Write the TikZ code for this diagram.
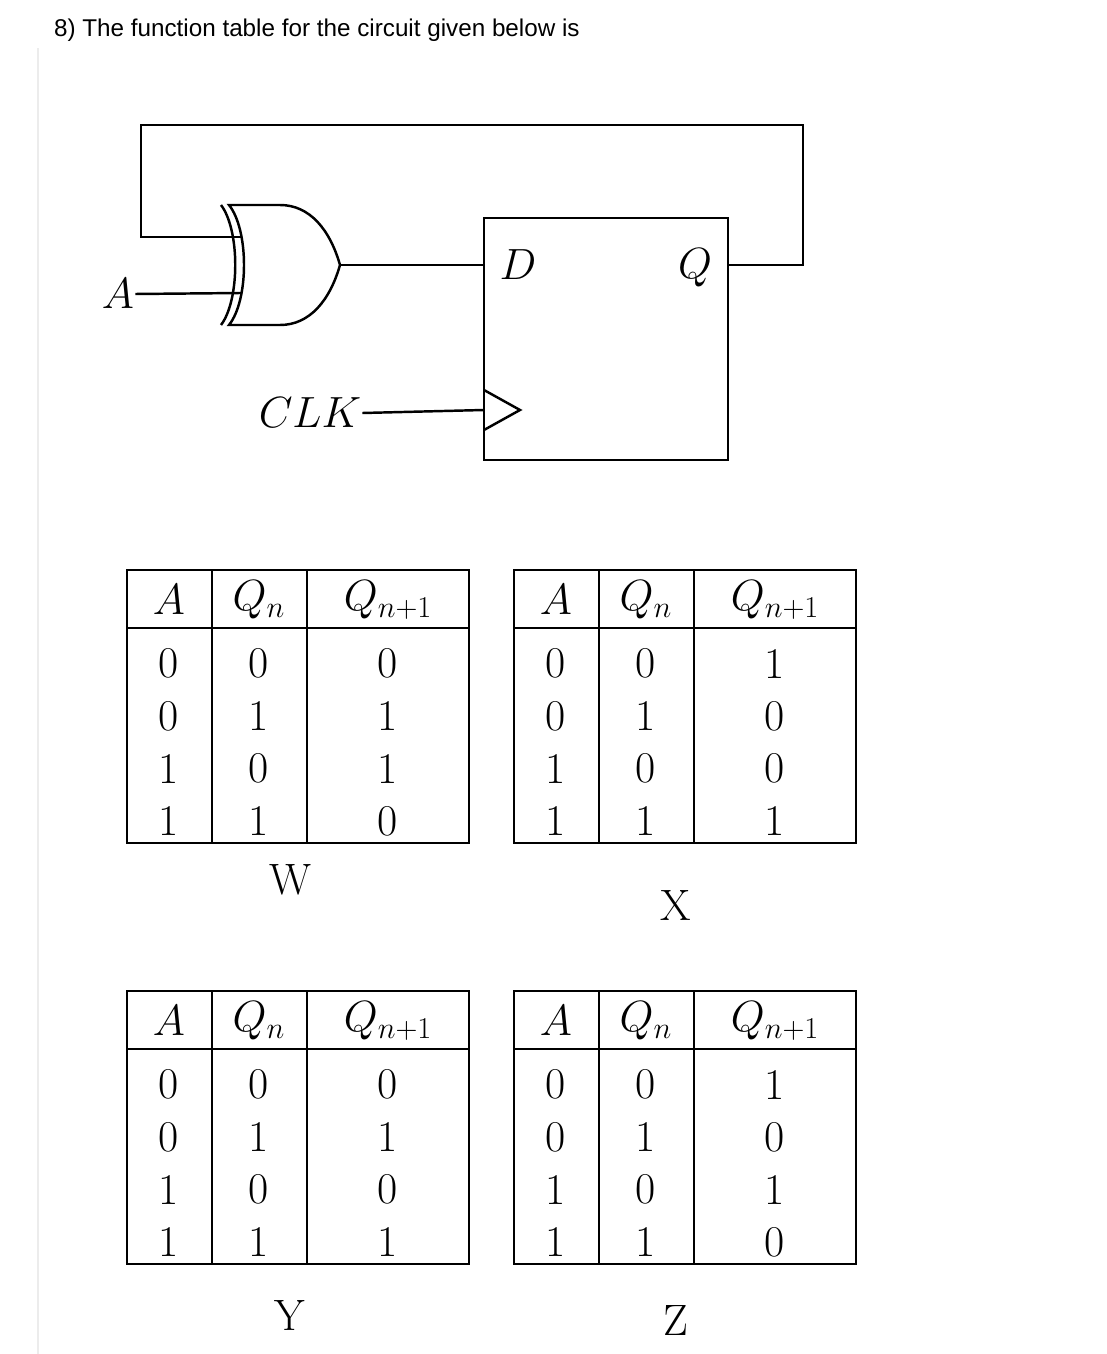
\documentclass[tikz,border=0pt]{standalone}
\usepackage{fontspec}
\setmainfont{Latin Modern Roman}
\newfontfamily\titlefont{Liberation Sans}
\usetikzlibrary{calc}

% one function table: top-left corner (#1,#2), rows #3, caption #4 at #5
\newcommand{\functable}[5]{%
  \begin{scope}[shift={(#1,#2)}]
    \draw[tbl] (0,0) rectangle (342,273);
    \draw[tbl] (0,58) -- (342,58);
    \draw[tbl] (85,0) -- (85,273);
    \draw[tbl] (180,0) -- (180,273);
    \node[big] (hA) at (42,30) {$A$};
    \node[big] (hQ) at (132,30) {$Q_n$};
    \node[big] (hN) at (261,30) {$Q_{n+1}$};
    \foreach \a/\q/\n [count=\i] in {#3} {
      \node[big] at (42,41+\i*52.5) {\a};
      \node[big] at (132,41+\i*52.5) {\q};
      \node[big] at (261,41+\i*52.5) {\n};
    }
    \node[big] (cap) at (#5) {#4};
  \end{scope}}

\begin{document}
\begin{tikzpicture}[x=0.02cm,y=-0.02cm,line width=1.4pt,
  tbl/.style={line width=1.6pt},
  big/.style={font=\fontsize{25}{28}\selectfont, inner sep=0pt}]
  \useasboundingbox (0,0) rectangle (1106,1354);

  \node[anchor=west, font=\titlefont\fontsize{13.8}{16}\selectfont] (title) at (47,30) {8) The function table for the circuit given below is};
  \draw[gray!15, line width=1pt] (38,48) -- (38,1354);

  % XOR gate
  \draw (221,205) .. controls (240,230) and (240,300) .. (221,325);
  \draw (229,205) -- (280,205) .. controls (310,205) and (330,230) .. (340,265)
        .. controls (330,300) and (310,325) .. (280,325) -- (229,325)
        .. controls (249,300) and (249,230) .. cycle;
  \coordinate (g1) at (241,237);
  \coordinate (g2) at (241,293);
  \coordinate (gout) at (340,265);

  % D flip-flop
  \draw (484,218) rectangle (728,460);
  \node[big] (D) at (518,265) {$D$};
  \node[big] (Q) at (695,268) {$Q$};
  \draw (484,390) -- (520,410) -- (484,430);
  \coordinate (din) at (484,265);
  \coordinate (qout) at (728,265);
  \coordinate (clkin) at (484,410);

  % inputs and wires
  \node[big] (A) at (118,294) {$A$};
  \node[big] (clk) at (310,413) {$CLK$};
  \draw (A.east) -- (g2);
  \draw (clk.east) -- (clkin);
  \draw (gout) -- (din);
  \draw (qout) -- (803,265) -- (803,125) -- (141,125) -- (141,237) -- (g1);

  % tables
  \functable{127}{570}{0/0/0,0/1/1,1/0/1,1/1/0}{W}{163,310}
  \functable{514}{570}{0/0/1,0/1/0,1/0/0,1/1/1}{X}{162,335}
  \functable{127}{991}{0/0/0,0/1/1,1/0/0,1/1/1}{Y}{163,324}
  \functable{514}{991}{0/0/1,0/1/0,1/0/1,1/1/0}{Z}{162,329}
\end{tikzpicture}
\end{document}
